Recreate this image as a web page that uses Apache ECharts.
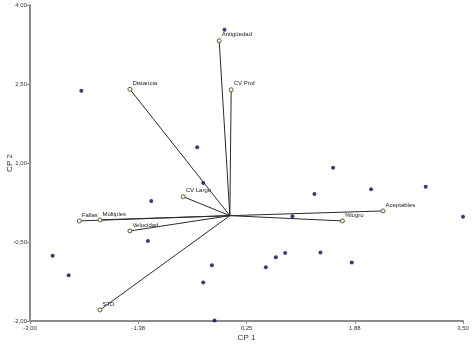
<!DOCTYPE html>
<html>
<head>
    <meta charset="utf-8" />
    <title>CP1 vs CP2</title>
    <style>
        html, body { margin: 0; padding: 0; background: #fff; }
        #chart { width: 474px; height: 351px; }
    </style>
</head>
<body>
    <div id="chart"></div>
</body>
<script src="https://cdn.jsdelivr.net/npm/echarts@6/dist/echarts.min.js"></script>
<script>
    // variables (vectores)
    var vecNames = ['Antigüedad', 'CV Prof', 'Distancia', 'Fallas', 'Múltiples', 'Velocidad', 'CV Largo', 'STD', '%logro', 'Aceptables'];
    var vecX = [-0.16, 0.02, -1.50, -2.26, -1.95, -1.50, -0.70, -1.95, 1.69, 2.30];
    var vecY = [3.32, 2.39, 2.40, -0.10, -0.08, -0.29, 0.36, -1.79, -0.10, 0.09];

    // casos
    var ptX = [-2.23, -0.08, -0.49, -0.40, -1.18, 1.27, 0.94, 1.55, 2.12, 2.94, 3.50, -1.23, -2.66, -2.42, -0.27, -0.40, -0.23, 0.54, 0.69, 0.83, 1.36, 1.83];
    var ptY = [2.37, 3.53, 1.30, 0.62, 0.28, 0.41, -0.01, 0.91, 0.50, 0.55, -0.02, -0.48, -0.76, -1.13, -0.94, -1.27, -1.99, -0.98, -0.79, -0.71, -0.70, -0.89];

    var xTicks = [-3.00, -1.375, 0.25, 1.875, 3.50];
    var xTickLabels = ['-3,00', '-1,38', '0,25', '1,88', '3,50'];
    var yTicks = [-2.00, -0.50, 1.00, 2.50, 4.00];
    var yTickLabels = ['-2,00', '-0,50', '1,00', '2,50', '4,00'];

    var points = ptX.map(function (x, i) { return [x, ptY[i]]; });
    var ends = vecX.map(function (x, i) { return { name: vecNames[i], value: [x, vecY[i]] }; });
    var segs = vecX.map(function (x, i) { return { coords: [[0, 0], [x, vecY[i]]] }; });

    function tickLabel(ticks, labels) {
        return function (v) {
            for (var i = 0; i < ticks.length; i++) {
                if (Math.abs(ticks[i] - v) < 1e-6) return labels[i];
            }
            return '';
        };
    }

    var chart = echarts.init(document.getElementById('chart'), null, { renderer: 'canvas' });
    var option = {
        animation: false,
        textStyle: { fontFamily: 'Liberation Sans, Arial, sans-serif' },
        grid: { left: 30, right: 11, top: 5, bottom: 30, containLabel: false, outerBoundsMode: 'none' },
        xAxis: {
            type: 'value',
            min: -3, max: 3.5,
            name: 'CP 1',
            nameLocation: 'middle',
            nameGap: 13,
            nameMoveOverlap: false,
            nameTextStyle: { fontSize: 8, color: '#333' },
            splitLine: { show: false },
            axisLine: { onZero: false, lineStyle: { color: '#8c8c8c', width: 2 } },
            axisTick: { show: true, length: 3, customValues: xTicks, lineStyle: { color: '#8c8c8c' } },
            axisLabel: { customValues: xTicks, formatter: tickLabel(xTicks, xTickLabels), fontSize: 6, color: '#333', margin: 4 }
        },
        yAxis: {
            type: 'value',
            min: -2, max: 4,
            name: 'CP 2',
            nameLocation: 'middle',
            nameGap: 16,
            nameMoveOverlap: false,
            nameTextStyle: { fontSize: 8, color: '#333' },
            splitLine: { show: false },
            axisLine: { onZero: false, lineStyle: { color: '#8c8c8c', width: 2 } },
            axisTick: { show: true, length: 3, customValues: yTicks, lineStyle: { color: '#8c8c8c' } },
            axisLabel: { customValues: yTicks, formatter: tickLabel(yTicks, yTickLabels), fontSize: 6, color: '#333', margin: 3 }
        },
        series: [
            {
                type: 'lines',
                coordinateSystem: 'cartesian2d',
                polyline: false,
                symbol: 'none',
                lineStyle: { color: '#2a2a2a', width: 1, opacity: 1 },
                data: segs,
                z: 2
            },
            {
                type: 'scatter',
                symbol: 'circle',
                symbolSize: 4,
                itemStyle: { color: '#0a0a55' },
                data: points,
                z: 3
            },
            {
                type: 'scatter',
                symbol: 'circle',
                symbolSize: 4,
                itemStyle: { color: '#ffffff', borderColor: '#5a5a20', borderWidth: 1, opacity: 1 },
                label: {
                    show: true,
                    position: 'right',
                    distance: 0,
                    offset: [0, -6],
                    formatter: '{b}',
                    fontSize: 6,
                    color: '#222'
                },
                data: ends,
                z: 4
            }
        ]
    };
    chart.setOption(option);
</script>
</html>
